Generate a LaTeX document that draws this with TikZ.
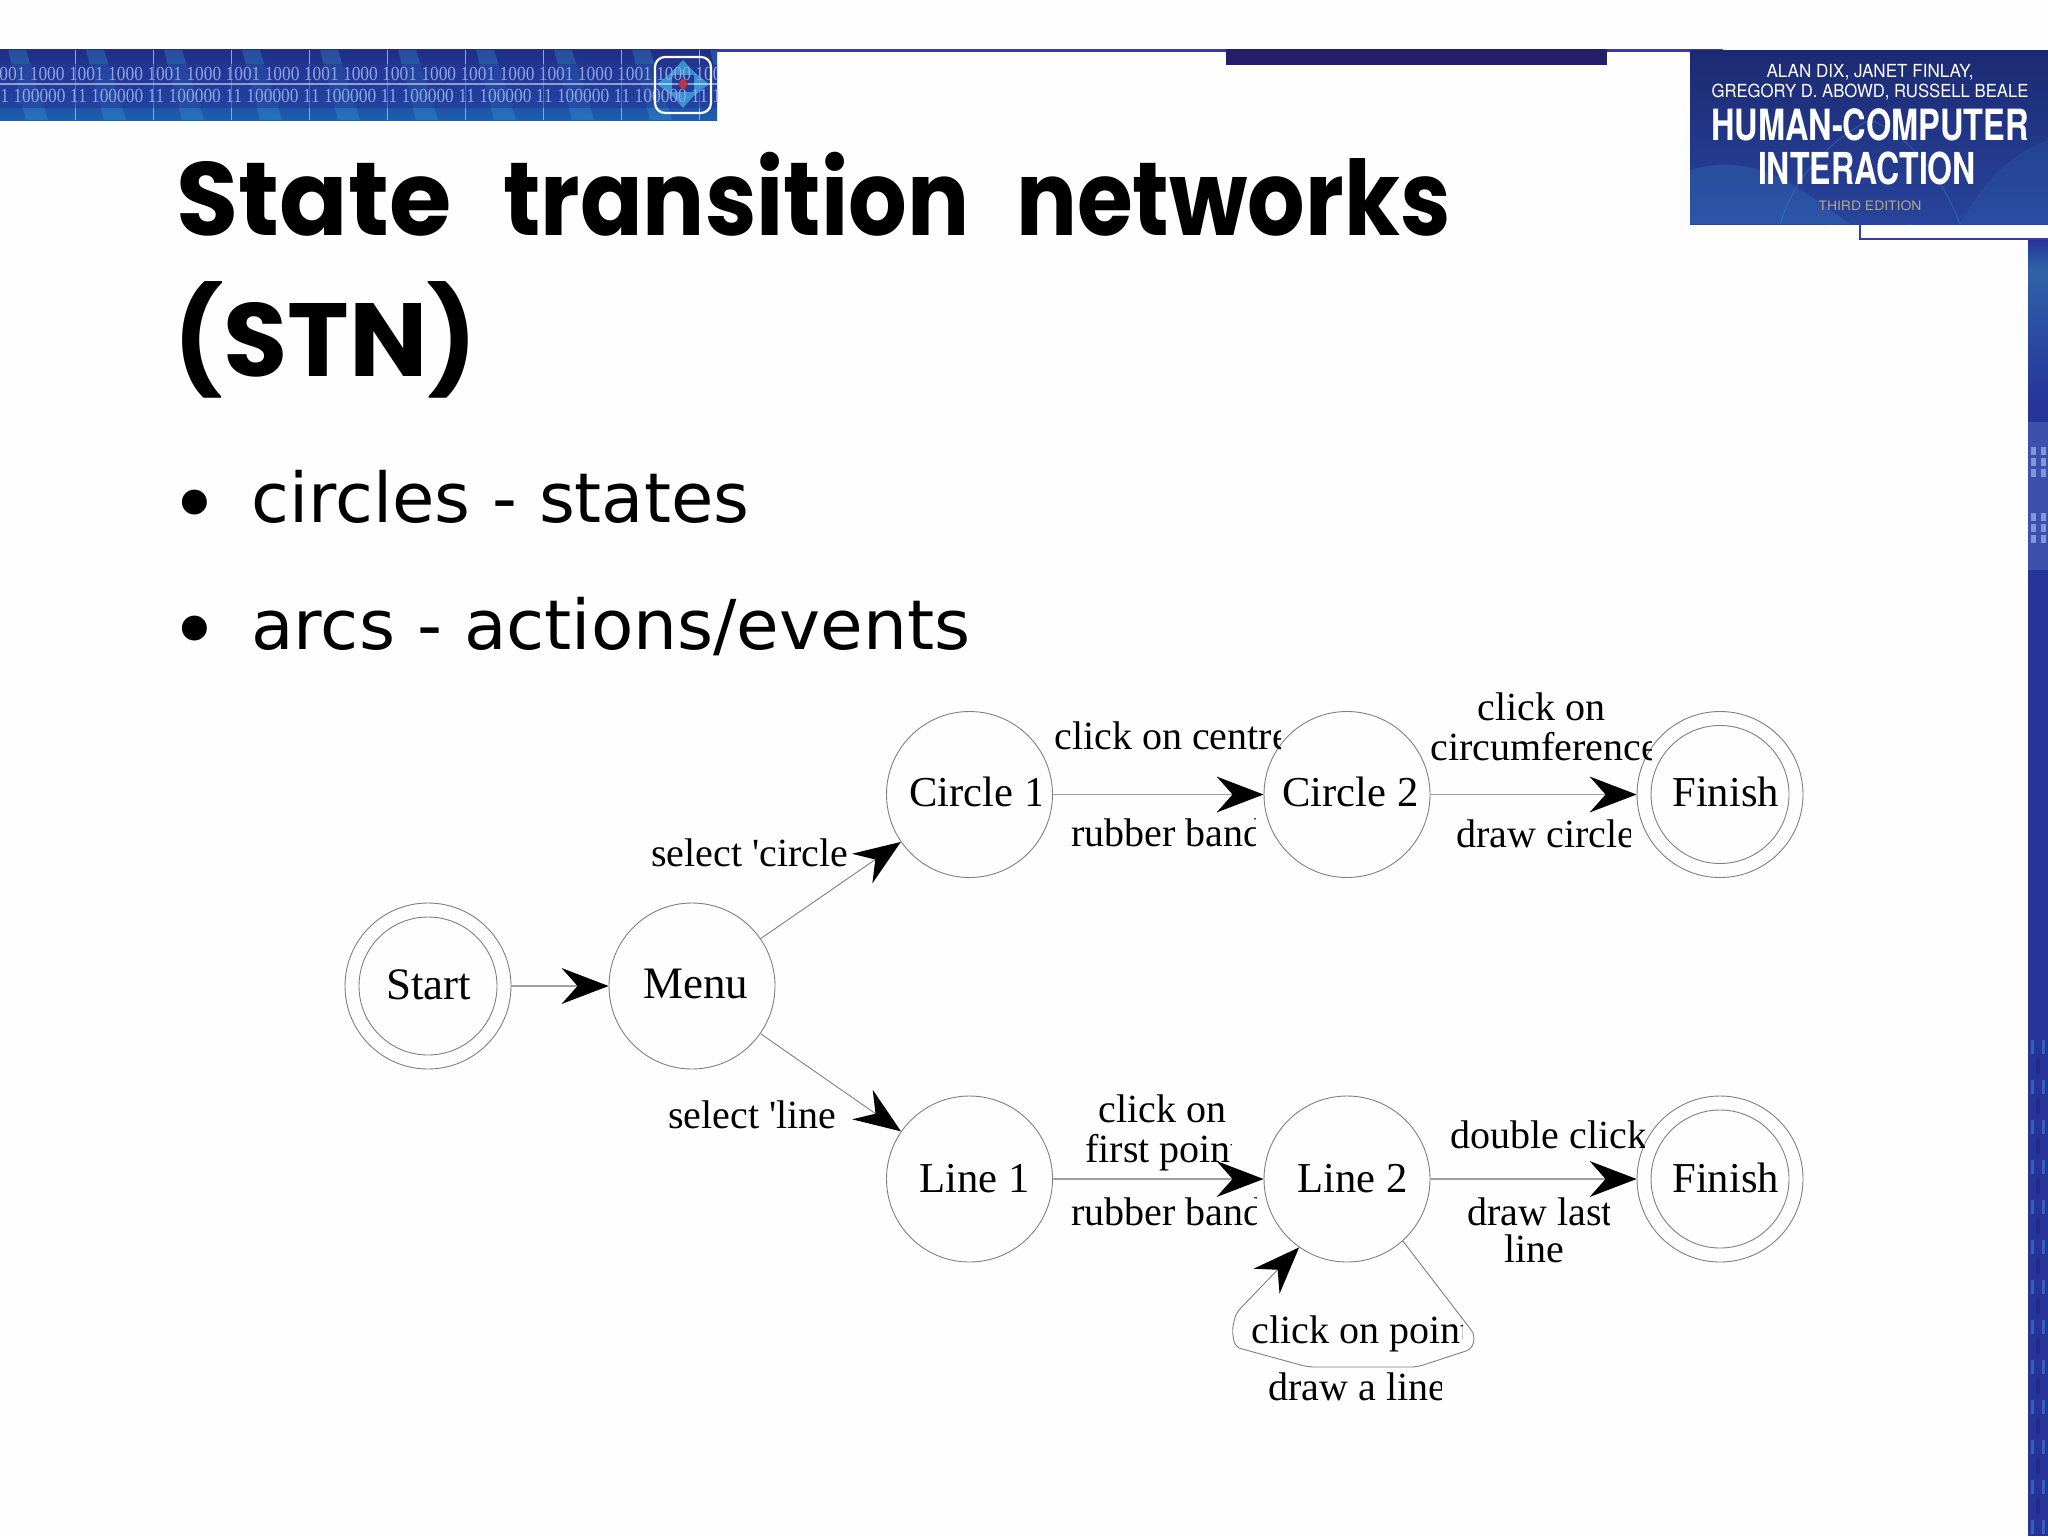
\documentclass[tikz,border=0pt]{standalone}
\usepackage{fontspec}
\usetikzlibrary{arrows.meta}
\setmainfont{Liberation Serif}
\newfontfamily\titlefont{Poppins}
\newfontfamily\bodyfont{DejaVu Sans}
\newfontfamily\coverfont{TeX Gyre Heros}
\definecolor{navy}{HTML}{241F6B}
\definecolor{rulec}{HTML}{3A3AA0}
\definecolor{bannerc}{HTML}{26359C}
\definecolor{digitc}{HTML}{8FA6E0}
\definecolor{iconc}{HTML}{3FA7E0}
\definecolor{edgec}{HTML}{808080}
\definecolor{covertop}{HTML}{1C2A72}
\definecolor{coverbot}{HTML}{28449C}
\definecolor{covertan}{HTML}{B0A890}
\definecolor{barbase}{HTML}{27359A}
\definecolor{barlight}{HTML}{2F62A8}
\definecolor{barmid}{HTML}{4A5CB4}
\tikzset{
  x=0.5pt,y=-0.5pt,
  stcircle/.style={circle,draw=edgec,line width=0.45pt,minimum size=83pt,inner sep=0pt},
  stinner/.style={circle,draw=edgec,line width=0.45pt,minimum size=69pt,inner sep=0pt},
  arclab/.style={anchor=base west,inner sep=0pt,font=\fontsize{20}{20}\selectfont},
  statelab/.style={anchor=base west,inner sep=0pt,font=\fontsize{21.3}{21.3}\selectfont},
  statebig/.style={anchor=base west,inner sep=0pt,font=\fontsize{22.5}{22.5}\selectfont},
  arc/.style={-{Stealth[length=23.5pt,width=18pt,inset=8pt,color=black,line width=0pt]},draw=edgec,line width=0.45pt},
  harc/.style={arc,draw=edgec!75,line width=0.9pt},
  covertext/.style={anchor=center,inner sep=0pt,text=white},
  titletext/.style={anchor=base west,inner sep=0pt,font=\titlefont\bfseries\fontsize{52}{52}\selectfont},
  bodytext/.style={anchor=base west,inner sep=0pt,font=\bodyfont\fontsize{34.4}{34.4}\selectfont,text=black},
  bullettext/.style={anchor=base west,inner sep=0pt,font=\bodyfont\fontsize{43}{43}\selectfont,text=black},
}
% name, left x, baseline y, clip x, style, text
\newcommand{\cliptext}[6]{\begin{scope}\clip (#2-10,#3-60) rectangle (#4,#3+30);\node[#5] (#1) at (#2,#3) {#6};\end{scope}}
\begin{document}
\begin{tikzpicture}
\useasboundingbox (0,0) rectangle (2048,1536);
\fill[white!99.5!black] (0,0) rectangle (2048,1536);

% ---- banner
\begin{scope}
\clip (0,50) rectangle (717,120);
\shade[top color=bannerc!85!black,bottom color=bannerc!80!cyan] (0,50) rectangle (717,120);
\foreach \k in {0,...,9}{
  \fill[iconc,opacity=.28] ({\k*78+8},50) -- ({\k*78+26},50) -- ({\k*78+48},120) -- ({\k*78+26},120) -- cycle;
  \draw[digitc,line width=.35pt] ({\k*78-3},50) -- ({\k*78-3},120);
}
\fill[bannerc,opacity=.55] (0,64) rectangle (717,108);
\fill[iconc,opacity=.8] (683,60) -- (697,75) -- (669,75) -- cycle;
\fill[iconc,opacity=.8] (683,108) -- (697,92) -- (669,92) -- cycle;
\fill[iconc,opacity=.8] (657,84) -- (672,72) -- (672,96) -- cycle;
\fill[iconc,opacity=.8] (709,84) -- (694,72) -- (694,96) -- cycle;
\draw[white,opacity=.5,line width=.6pt] (0,84) -- (717,84);
\node[anchor=base west,inner sep=0pt,text=digitc,font=\fontsize{8.7}{8.7}\selectfont] (bannerrowa) at (-1,81)
 {\scalebox{1}[1.15]{001 1000 1001 1000 1001 1000 1001 1000 1001 1000 1001 1000 1001 1000 1001 1000 1001 1000 1001}};
\node[anchor=base west,inner sep=0pt,text=digitc,font=\fontsize{8.7}{8.7}\selectfont] (bannerrowb) at (0,103)
 {\scalebox{1}[1.15]{1 100000 11 100000 11 100000 11 100000 11 100000 11 100000 11 100000 11 100000 11 100000 11 100000}};
\fill[red!70!iconc] (683,78) -- (688,84) -- (683,90) -- (678,84) -- cycle;
\draw[white,line width=1.1pt,rounded corners=5pt] (655,57) rectangle (711,113);
\end{scope}

% ---- top rule and bar
\fill[rulec] (717,49.5) rectangle (1723,52);
\fill[navy] (1226,49) rectangle (1607,65);

% ---- cover
\shade[top color=covertop,bottom color=coverbot] (1690,51) rectangle (2048,224);
\begin{scope}
\clip (1690,51) rectangle (2048,224);
\fill[iconc,opacity=.18] (1690,170) .. controls (1760,150) and (1800,190) .. (1850,224) -- (1690,224) -- cycle;
\fill[iconc,opacity=.1] (1960,224) .. controls (1990,170) and (2020,150) .. (2048,140) -- (2048,224) -- cycle;
\draw[iconc,opacity=.3,line width=.5pt] (1780,224) .. controls (1800,160) and (1850,130) .. (1870,120);
\draw[iconc,opacity=.3,line width=.5pt] (1960,224) .. controls (1940,170) and (1900,130) .. (1870,120);
\draw[iconc,opacity=.3,line width=.5pt] (1830,224) arc (180:0:40);
\end{scope}
\node[covertext,font=\coverfont\fontsize{9}{9}\selectfont] (covera) at (1870,72) {\resizebox{103.5pt}{\height}{ALAN DIX, JANET FINLAY,}};
\node[covertext,font=\coverfont\fontsize{9}{9}\selectfont] (coverb) at (1870,92) {\resizebox{158.5pt}{\height}{GREGORY D. ABOWD, RUSSELL BEALE}};
\node[covertext,font=\coverfont\bfseries\fontsize{21.5}{21.5}\selectfont] (coverc) at (1870,125) {\resizebox{159pt}{\height}{HUMAN-COMPUTER}};
\node[covertext,font=\coverfont\bfseries\fontsize{22}{22}\selectfont] (coverd) at (1867,168) {\resizebox{109pt}{\height}{INTERACTION}};
\node[covertext,text=covertan,font=\coverfont\fontsize{6.5}{6.5}\selectfont] (covere) at (1870,206) {\resizebox{51.5pt}{\height}{THIRD EDITION}};

% ---- white box and right bar
\draw[rulec,line width=1.2pt] (1860,224) -- (1860,239) -- (2048,239);
\fill[barbase] (2028,240) rectangle (2048,1536);
\shade[top color=barbase,bottom color=barlight] (2028,240) rectangle (2048,270);
\shade[top color=barlight,bottom color=barbase] (2028,270) rectangle (2048,400);
\fill[barmid!70!barbase] (2028,422) rectangle (2048,570);
\foreach \yy in {447,458,469,513,524,535}{
  \fill[digitc!80!barmid] (2031,\yy) rectangle (2036,{\yy+8});
  \fill[digitc!80!barmid] (2041,\yy) rectangle (2046,{\yy+8});
}
\foreach \yy in {1040,1080,...,1520}{
  \fill[iconc,opacity=.4] (2031,\yy) rectangle (2034,{\yy+14});
  \fill[iconc,opacity=.4] (2042,\yy) rectangle (2045,{\yy+14});
  \fill[navy,opacity=.5] (2036,{\yy+18}) rectangle (2040,{\yy+34});
}

% ---- title and bullets
\node[titletext] (titlea) at (176,235) {\resizebox{137.5pt}{\height}{State}\hspace{26pt}\resizebox{233pt}{\height}{transition}\hspace{23.5pt}\resizebox{217pt}{\height}{networks}};
\node[titletext] (titleb) at (173,376) {\resizebox{152pt}{\height}{(STN)}};
\node[bullettext] (bulleta) at (169,534) {•};
\node[bodytext] (bodya) at (251,522) {\resizebox{249pt}{\height}{circles - states}};
\node[bullettext] (bulletb) at (169,660) {•};
\node[bodytext] (bodyb) at (251,649) {\resizebox{359.5pt}{\height}{arcs - actions/events}};

% ---- states
\node[stcircle] (start) at (428,986) {};
\node[stinner] (starti) at (428,986) {};
\node[stcircle] (menu) at (692,986) {};
\node[stcircle] (circa) at (969.5,794.5) {};
\node[stcircle] (circb) at (1347,794.5) {};
\node[stcircle] (fina) at (1720,794.5) {};
\node[stinner] (finai) at (1720,794.5) {};
\node[stcircle] (linea) at (969.5,1179) {};
\node[stcircle] (lineb) at (1347,1179) {};
\node[stcircle] (finb) at (1720,1179) {};
\node[stinner] (finbi) at (1720,1179) {};

% ---- state labels
\cliptext{tstart}{386}{999}{480}{statebig}{Start}
\cliptext{tmenu}{643}{998}{760}{statebig}{Menu}
\cliptext{tcirca}{909}{806}{1040}{statelab}{Circle 1}
\cliptext{tcircb}{1282}{806}{1425}{statelab}{Circle 2}
\cliptext{tfina}{1672}{806}{1778}{statelab}{Finish}
\cliptext{tlinea}{919}{1192}{1040}{statelab}{Line 1}
\cliptext{tlineb}{1297}{1192}{1420}{statelab}{Line 2}
\cliptext{tfinb}{1672}{1192}{1778}{statelab}{Finish}

% ---- arc labels
\cliptext{lselc}{651}{866}{850}{arclab}{select \textquotesingle circle}
\cliptext{lsell}{668}{1128}{840}{arclab}{select \textquotesingle line}
\cliptext{lcen}{1054}{749}{1280}{arclab}{click on centre}
\cliptext{lrba}{1071}{846}{1255}{arclab}{rubber band}
\cliptext{lcoa}{1477}{720}{1610}{arclab}{click on}
\cliptext{lcirc}{1430}{760}{1651}{arclab}{circumference}
\cliptext{ldc}{1456}{847}{1630}{arclab}{draw circle}
\cliptext{lcob}{1098}{1122}{1235}{arclab}{click on}
\cliptext{lfp}{1085}{1162}{1231}{arclab}{first point}
\cliptext{lrbb}{1071}{1225}{1256}{arclab}{rubber band}
\cliptext{ldbl}{1450}{1148}{1644}{arclab}{double click}
\cliptext{ldl}{1467}{1225}{1609}{arclab}{draw last}
\cliptext{lli}{1504}{1262}{1570}{arclab}{line}
\cliptext{lcp}{1251}{1343}{1462}{arclab}{click on point}
\cliptext{ldal}{1268}{1400}{1441}{arclab}{draw a line}

% ---- connectors
\draw[harc] (start) -- (menu);
\draw[arc] (menu) -- (circa);
\draw[arc] (menu) -- (linea);
\draw[harc] (circa) -- (circb);
\draw[harc] (circb) -- (fina);
\draw[harc] (linea) -- (lineb);
\draw[harc] (lineb) -- (finb);
\coordinate (la) at (1475,1335);
\coordinate (lb) at (1472,1349);
\coordinate (lc) at (1417,1367);
\coordinate (ld) at (1308,1367);
\coordinate (le) at (1235,1347);
\coordinate (lf) at (1232,1330);
\coordinate (lg) at (1236,1313);
\draw[arc,rounded corners=3pt] (lineb.-48) -- (la) -- (lb) -- (lc) -- (ld) -- (le) -- (lf) -- (lg) -- (lineb.-125);
\end{tikzpicture}
\end{document}
